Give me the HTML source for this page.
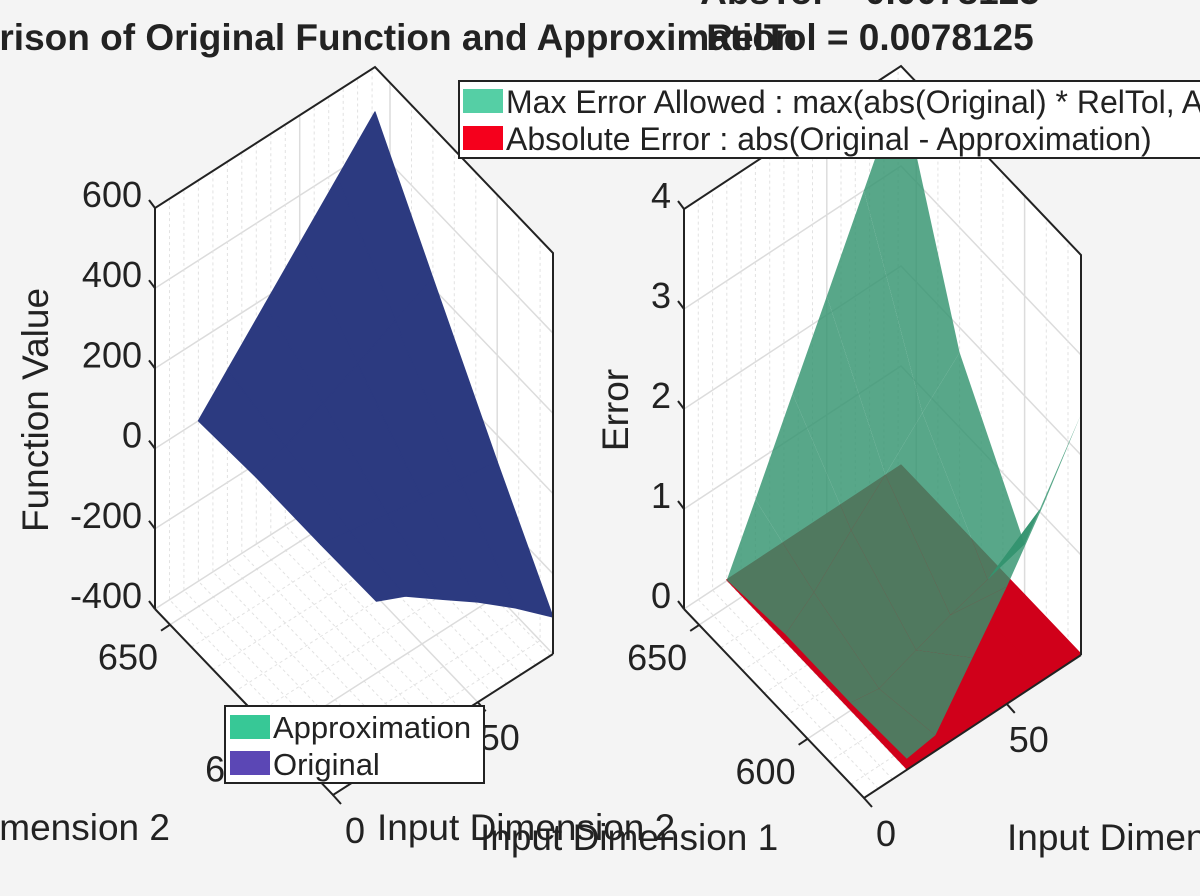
<!DOCTYPE html>
<html><head><meta charset="utf-8"><style>
html,body{margin:0;padding:0;background:#f4f4f4;}
svg{display:block;font-family:"Liberation Sans",sans-serif;}
</style></head><body>
<svg id="fig" width="1200" height="896" viewBox="0 0 1200 896">
<rect width="1200" height="896" fill="#f4f4f4"/>
<g id="left"></g>
<g id="right"></g>
<g id="txt">
<text x="-126" y="50" font-size="37" font-weight="bold" fill="#222">Comparison of Original Function and Approximation</text>
<text x="870" y="4" font-size="37" font-weight="bold" fill="#222" text-anchor="middle">AbsTol = 0.0078125</text>
<text x="870" y="50" font-size="37" font-weight="bold" fill="#222" text-anchor="middle">RelTol = 0.0078125</text>
<text transform="translate(48,410) rotate(-90)" font-size="37" fill="#222" text-anchor="middle">Function Value</text>
<text transform="translate(628,410) rotate(-90)" font-size="37" fill="#222" text-anchor="middle">Error</text>
<text x="170" y="840" font-size="37" fill="#222" text-anchor="end">Input Dimension 2</text>
<text x="377" y="840" font-size="37" fill="#222">Input Dimension 2</text>
<text x="480" y="850" font-size="37" fill="#222">Input Dimension 1</text>
<text x="1007" y="850" font-size="37" fill="#222">Input Dimension 1</text>
</g>
<g id="leg">
<g>
<rect x="225" y="706" width="259" height="77" fill="#fff" stroke="#222" stroke-width="2"/>
<rect x="230" y="715" width="40" height="24" fill="#37c896"/>
<text x="273" y="738" font-size="31" fill="#222">Approximation</text>
<rect x="230" y="751" width="40" height="24" fill="#5b47b5"/>
<text x="273" y="775" font-size="31" fill="#222">Original</text>
</g>
<g>
<rect x="459" y="81" width="760" height="77" fill="#fff" stroke="#222" stroke-width="2"/>
<rect x="463" y="89" width="40" height="24" fill="#55cfa5"/>
<text x="506" y="113" font-size="32" fill="#222">Max Error Allowed : max(abs(Original) * RelTol, AbsTol)</text>
<rect x="463" y="126" width="40" height="24" fill="#f5001c"/>
<text x="506" y="150" font-size="32" fill="#222">Absolute Error : abs(Original - Approximation)</text>
</g>
</g>
</svg>
<script>
const xs = [15, 25, 38, 50, 63, 76];
const ys = [574, 600, 630, 657];
const fOrig = [
  [14, -20, -88, -150, -225, -308],
  [10, -4, -22, -38, -52, -66],
  [10, 40, 88, 130, 178, 224],
  [0, 80, 184, 280, 384, 488]
];
const relTol = 0.0078125;
const absTol = 0.0078125;
const leftZTicks = [-400, -200, 0, 200, 400, 600];
const leftZLabels = ["-400", "-200", "0", "200", "400", "600"];
const rightZTicks = [0, 1, 2, 3, 4];
const rightZLabels = ["0", "1", "2", "3", "4"];
const xTicks = [0, 50];
const xTickLabels = ["0", "50"];
const yTicks = [600, 650];
const yTickLabels = ["600", "650"];

const NS = "http://www.w3.org/2000/svg";
function mk(parent, tag, attrs) {
  const e = document.createElementNS(NS, tag);
  for (const k in attrs) e.setAttribute(k, attrs[k]);
  parent.appendChild(e);
  return e;
}
function makeProj(F, R, L, zmin, zmax, H) {
  return function (x, y, z) {
    const a = x / 76, b = (y - 574) / 83, c = (z - zmin) / (zmax - zmin);
    return [F[0] + a * (R[0] - F[0]) + b * (L[0] - F[0]),
            F[1] + a * (R[1] - F[1]) + b * (L[1] - F[1]) - c * H];
  };
}
function pts(arr) { return arr.map(p => p[0].toFixed(1) + "," + p[1].toFixed(1)).join(" "); }

function drawBox(g, P, zmin, zmax, zTicks) {
  const xmax = 76, ymax = 657, ymin = 574;
  const floor = [P(0, ymin, zmin), P(xmax, ymin, zmin), P(xmax, ymax, zmin), P(0, ymax, zmin)];
  let e = mk(g, "polygon", {points: pts(floor), fill: "#fff"});
  
  
  const wallL = [P(0, ymax, zmin), P(xmax, ymax, zmin), P(xmax, ymax, zmax), P(0, ymax, zmax)];
  e = mk(g, "polygon", {points: pts(wallL), fill: "#fff"});
  
  
  const wallR = [P(xmax, ymin, zmin), P(xmax, ymax, zmin), P(xmax, ymax, zmax), P(xmax, ymin, zmax)];
  e = mk(g, "polygon", {points: pts(wallR), fill: "#fff"});
  
  
  zTicks.forEach(z => {
    const p = [P(0, ymax, z), P(xmax, ymax, z), P(xmax, ymin, z)];
    const l = mk(g, "polyline", {points: pts(p), fill: "none", stroke: "#dcdcdc", "stroke-width": 1.5});
    
    
  });
  for (let x = 5; x < xmax; x += 5) {
    const major = x % 50 === 0;
    const p = [P(x, ymin, zmin), P(x, ymax, zmin), P(x, ymax, zmax)];
    const attrs = {points: pts(p), fill: "none", stroke: major ? "#dcdcdc" : "#e2e2e2", "stroke-width": major ? 1.5 : 1};
    if (!major) attrs["stroke-dasharray"] = "3,3";
    const l = mk(g, "polyline", attrs);
    
    
  }
  for (let y = 580; y < ymax; y += 10) {
    const major = y % 50 === 0;
    const p = [P(0, y, zmin), P(xmax, y, zmin), P(xmax, y, zmax)];
    const attrs = {points: pts(p), fill: "none", stroke: major ? "#dcdcdc" : "#e2e2e2", "stroke-width": major ? 1.5 : 1};
    if (!major) attrs["stroke-dasharray"] = "3,3";
    const l = mk(g, "polyline", attrs);
    
    
  }
}
function drawFrame(g, P, zmin, zmax, zTicks, zLabels) {
  const xmax = 76, ymin = 574, ymax = 657;
  const lines = [
    [P(0, ymax, zmin), P(0, ymax, zmax), P(xmax, ymax, zmax), P(xmax, ymin, zmax), P(xmax, ymin, zmin)],
    [P(0, ymax, zmin), P(0, ymin, zmin), P(xmax, ymin, zmin)]
  ];
  lines.forEach(p => {
    const l = mk(g, "polyline", {points: pts(p), fill: "none", stroke: "#222", "stroke-width": 2});
    
    
  });
  zTicks.forEach((z, i) => {
    const p = P(0, ymax, z);
    const t = mk(g, "line", {x1: p[0] - 6, y1: p[1] - 8, x2: p[0], y2: p[1], stroke: "#222", "stroke-width": 2});
    
    
    const tx = mk(g, "text", {x: p[0] - 13, y: p[1] - 1, "font-size": 36, fill: "#222", "text-anchor": "end"});
    tx.textContent = zLabels[i];
    
    
  });
  xTicks.forEach((x, i) => {
    const p = P(x, ymin, zmin);
    const t = mk(g, "line", {x1: p[0], y1: p[1], x2: p[0] + 8, y2: p[1] + 9, stroke: "#222", "stroke-width": 2});
    
    
    const tx = mk(g, "text", {x: p[0] + 22, y: p[1] + 48, "font-size": 36, fill: "#222", "text-anchor": "middle"});
    tx.textContent = xTickLabels[i];
    
    
  });
  yTicks.forEach((y, i) => {
    const p = P(0, y, zmin);
    const t = mk(g, "line", {x1: p[0], y1: p[1], x2: p[0] - 9, y2: p[1] + 6, stroke: "#222", "stroke-width": 2});
    
    
    const tx = mk(g, "text", {x: p[0] - 12, y: p[1] + 45, "font-size": 36, fill: "#222", "text-anchor": "end"});
    tx.textContent = yTickLabels[i];
    
    
  });
}
function drawSurface(g, P, zfun, fill, opacity, name) {
  const cells = [];
  for (let j = 0; j < ys.length - 1; j++)
    for (let i = 0; i < xs.length - 1; i++) {
      const q = [[i, j], [i + 1, j], [i + 1, j + 1], [i, j + 1]].map(([a, b]) => P(xs[a], ys[b], zfun(fOrig[b][a])));
      cells.push({q, d: xs[i] + ys[j]});
    }
  cells.sort((a, b) => b.d - a.d);
  cells.forEach(c => {
    const attrs = {points: pts(c.q), fill: fill, "fill-opacity": opacity};
    if (opacity >= 1) { attrs.stroke = fill; attrs["stroke-width"] = 1.2; attrs["stroke-linejoin"] = "round"; }
    else { attrs.stroke = "none"; }
    const e = mk(g, "polygon", attrs);
    
    
  });
}

const gL = document.getElementById("left");
const PL = makeProj([333, 795], [553, 654], [155, 609], -400, 600, 401);
drawBox(gL, PL, -400, 600, leftZTicks);
drawSurface(gL, PL, v => v, "#2c3a80", 1, "original-surface-cell");
drawFrame(gL, PL, -400, 600, leftZTicks, leftZLabels);

const gR = document.getElementById("right");
const PR = makeProj([864, 798], [1081, 655], [684, 609], 0, 4, 400);
drawBox(gR, PR, 0, 4, rightZTicks);
drawSurface(gR, PR, v => 0.01, "#d0001a", 1, "abs-error-surface-cell");
drawSurface(gR, PR, v => Math.max(Math.abs(v) * relTol, absTol), "#33946f", 0.82, "max-error-surface-cell");
drawFrame(gR, PR, 0, 4, rightZTicks, rightZLabels);
</script>
</body></html>
